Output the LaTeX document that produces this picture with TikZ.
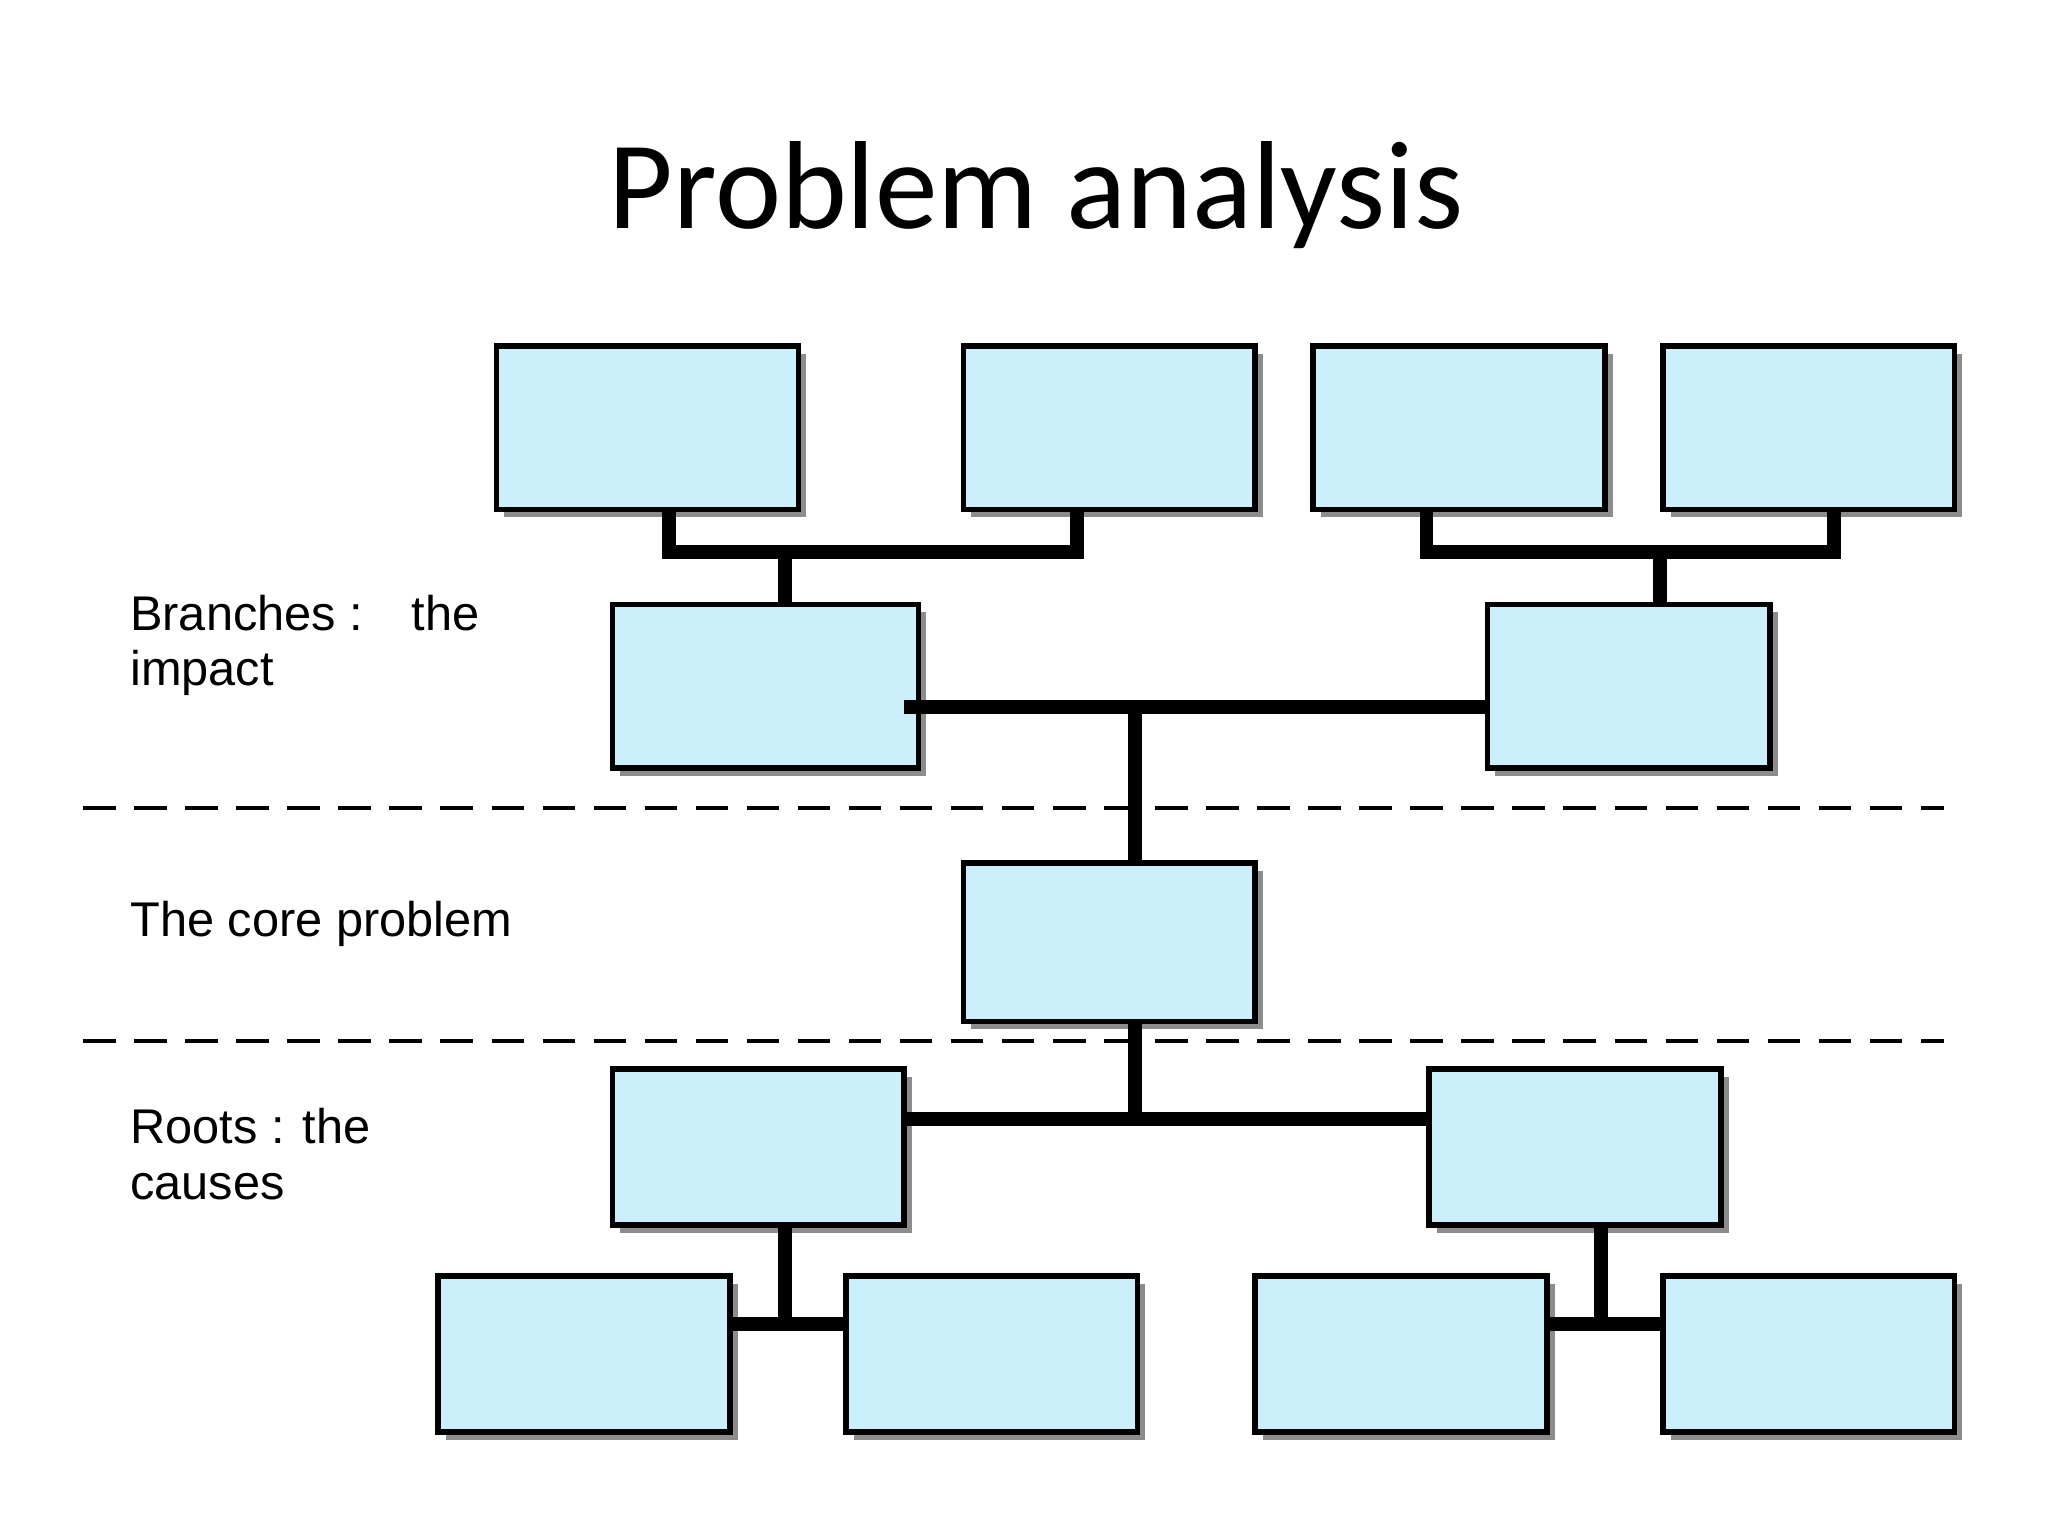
\documentclass[tikz,border=0pt]{standalone}
\usepackage{fontspec}
\setmainfont{Liberation Sans}
\newfontfamily\titlefont{Carlito}
\begin{document}
\begin{tikzpicture}[x=0.01cm,y=-0.01cm,
  bx/.style={draw=black,line width=1.2pt,fill=cyan!20,inner sep=0pt,anchor=north west},
  sh/.style={fill=black!45,draw=none},
  conn/.style={line width=3pt,black},
  sep/.style={line width=0.9pt,dash pattern=on 7pt off 4pt},
  lbl/.style={anchor=north west,font=\fontsize{10.5}{12}\selectfont,align=left,inner sep=0pt}]
\useasboundingbox (0,0) rectangle (1552,1164);
\newcommand\mybox[5]{%
  \fill[sh] (#2+8,#3+8) rectangle (#4+8,#5+8);
  \node[bx,minimum width={(#4-#2)*0.01cm},minimum height={(#5-#3)*0.01cm}] (#1) at (#2,#3) {};}
\node[font=\titlefont\fontsize{27}{30}\selectfont] (title) at (785,148) {Problem analysis};
\mybox{t1}{374}{260}{603}{384}
\mybox{t2}{728}{260}{949}{384}
\mybox{t3}{993}{260}{1214}{384}
\mybox{t4}{1258}{260}{1479}{384}
\mybox{m1}{462}{456}{694}{580}
\mybox{m2}{1125}{456}{1339}{580}
\mybox{c}{728}{652}{949}{772}
\mybox{r1}{462}{808}{683}{926}
\mybox{r2}{1081}{808}{1302}{926}
\mybox{b1}{330}{965}{551}{1083}
\mybox{b2}{639}{965}{860}{1083}
\mybox{b3}{949}{965}{1170}{1083}
\mybox{b4}{1258}{965}{1479}{1083}
\draw[sep] (63,612) -- (1473,612);
\draw[sep] (63,789) -- (1473,789);
\coordinate (j1) at (595,418); \coordinate (j2) at (1258,418);
\coordinate (j3) at (860,536); \coordinate (j4) at (860,848);
\coordinate (j5) at (595,1003); \coordinate (j6) at (1213,1003);
\coordinate (t1s) at (507,384); \coordinate (t2s) at (816,384);
\coordinate (t3s) at (1081,384); \coordinate (t4s) at (1390,384);
\coordinate (m1e) at (685,536);
\draw[conn] (t1s) |- (j1) -| (t2s);
\draw[conn] (j1) -- (m1.north-|j1);
\draw[conn] (t3s) |- (j2) -| (t4s);
\draw[conn] (j2) -- (m2.north-|j2);
\draw[conn] (m1e) -- (m2.west|-j3);
\draw[conn] (j3) -- (c.north-|j3);
\draw[conn] (c.south-|j4) -- (j4);
\draw[conn] (r1.east|-j4) -- (r2.west|-j4);
\draw[conn] (r1.south-|j5) -- (j5);
\draw[conn] (b1.east|-j5) -- (b2.west|-j5);
\draw[conn] (r2.south-|j6) -- (j6);
\draw[conn] (b3.east|-j6) -- (b4.west|-j6);
\node[lbl] (l1) at (98,450) {Branches :\quad the\\impact};
\node[lbl] (l2) at (98,682) {The core problem};
\node[lbl] (l3) at (98,839) {Roots : the\\causes};
\end{tikzpicture}
\end{document}
